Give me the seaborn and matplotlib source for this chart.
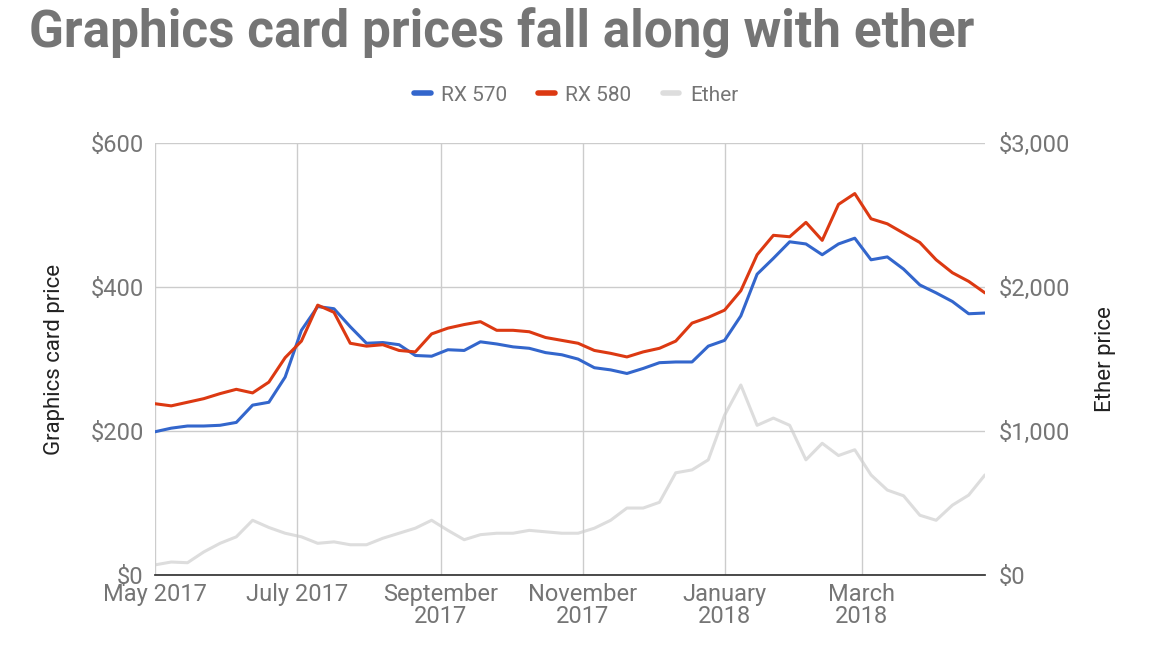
import matplotlib
matplotlib.use("Agg")
import matplotlib.pyplot as plt
import seaborn as sns
import pandas as pd

sns.set_theme(style="white")
plt.rcParams['font.family'] = ['Roboto', 'DejaVu Sans']

dates = list(pd.date_range("2017-05-01", periods=51, freq="7D")) + [pd.Timestamp("2018-04-23")]
rx570 = [199,204,207,207,208,212,236,240,275,340,373,370,345,322,323,320,305,304,313,312,
         324,321,317,315,309,306,300,288,285,280,287,295,296,296,318,326,360,418,440,463,
         460,445,460,468,438,442,425,403,392,380,363,364]
rx580 = [238,235,240,245,252,258,253,268,302,325,375,365,322,318,320,312,310,335,343,348,
         352,340,340,338,330,326,322,312,308,303,310,315,325,350,358,368,395,445,472,470,
         490,465,515,530,495,488,475,462,438,420,408,392]
ether = [70,90,85,160,220,265,380,330,290,265,220,230,210,210,255,290,325,380,310,245,
         280,290,290,310,300,290,290,325,380,465,465,505,710,730,800,1110,1320,1040,1090,1040,
         800,915,830,870,695,590,550,415,380,485,555,695]

df = pd.DataFrame({"date": dates, "RX 570": rx570, "RX 580": rx580, "Ether": ether})
grey = "#757575"

fig = plt.figure(figsize=(11.52, 6.48), dpi=100)
ax = fig.add_axes([0.1345, 0.1127, 0.7205, 0.6663])
ax2 = ax.twinx()
sns.lineplot(data=df, x="date", y="Ether", ax=ax2, color="#dddddd", lw=2.2, legend=False)
sns.lineplot(data=df, x="date", y="RX 570", ax=ax, color="#3366cc", lw=2.2, legend=False)
sns.lineplot(data=df, x="date", y="RX 580", ax=ax, color="#dc3912", lw=2.2, legend=False)
ax.set_zorder(ax2.get_zorder() + 1)
ax.patch.set_visible(False)

ax.set_ylim(0, 600); ax2.set_ylim(0, 3000)
ax.set_xlim(pd.Timestamp("2017-05-01"), pd.Timestamp("2018-04-23"))
ax.set_yticks([0, 200, 400, 600]); ax.set_yticklabels(["$0", "$200", "$400", "$600"])
ax2.set_yticks([0, 1000, 2000, 3000]); ax2.set_yticklabels(["$0", "$1,000", "$2,000", "$3,000"])
ticks = [pd.Timestamp(s) for s in ["2017-05-01", "2017-07-01", "2017-09-01", "2017-11-01", "2018-01-01", "2018-03-01"]]
ax.set_xticks(ticks)
ax.set_xticklabels(["May 2017", "July 2017", "September\n2017", "November\n2017", "January\n2018", "March\n2018"],
                   linespacing=0.95)
ax.grid(True, color="#cccccc", lw=1)
ax2.grid(False)
for a in (ax, ax2):
    for s in a.spines.values():
        s.set_visible(False)
    a.tick_params(colors=grey, labelsize=17, length=0)
ax.spines["bottom"].set_visible(True); ax.spines["bottom"].set_color("#333333")
ax.set_xlabel("")
ax.set_ylabel("Graphics card price", color="#222222", fontsize=16, labelpad=18)
ax2.set_ylabel("Ether price", color="#222222", fontsize=16, labelpad=18)
ax.tick_params(axis="x", pad=6)
ax.tick_params(axis="y", pad=8)
ax2.tick_params(axis="y", pad=10)

fig.text(0.025, 0.95, "Graphics card prices fall along with ether", fontsize=37,
         fontweight="bold", color=grey, va="center")
from matplotlib.lines import Line2D
handles = [Line2D([], [], color=c, lw=4) for c in ["#3366cc", "#dc3912", "#dddddd"]]
fig.legend(handles, ["RX 570", "RX 580", "Ether"], loc="center", bbox_to_anchor=(0.5, 0.853),
           ncol=3, frameon=False, fontsize=15, handlelength=0.8, columnspacing=1.5,
           handletextpad=0.5, labelcolor=grey)
fig.savefig("out.png", dpi=100)
